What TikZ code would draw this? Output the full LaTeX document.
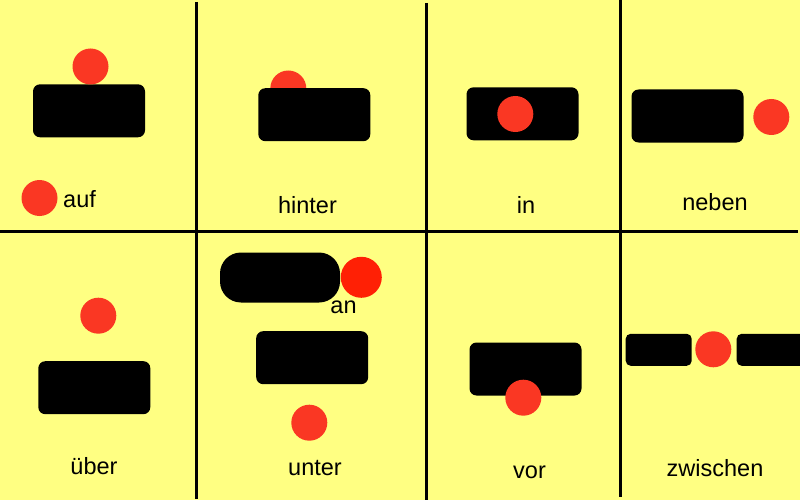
\documentclass[tikz,border=0pt]{standalone}
\usepackage{fontspec}
\setmainfont{Liberation Sans}
\definecolor{bgyellow}{RGB}{255,255,130}
\definecolor{ballred}{RGB}{250,55,35}
\definecolor{anred}{RGB}{255,32,5}
\begin{document}
\begin{tikzpicture}[x=1pt,y=-1pt,
  blk/.style={fill=black,draw=none,rounded corners=7pt,inner sep=0pt,outer sep=0pt,minimum width=#1},
  blk/.default=112pt,
  ball/.style={circle,fill=ballred,draw=none,inner sep=0pt,outer sep=0pt,minimum size=36pt},
  word/.style={anchor=base,inner sep=0pt,font=\fontsize{23.5}{28}\selectfont},
  sep/.style={line width=3pt,black}]
\useasboundingbox (0,0) rectangle (800,500);
\fill[bgyellow] (0,0) rectangle (800,500);
% separators
\draw[sep] (0,231) -- (798,231);
\draw[sep] (196,2) -- (196,499);
\draw[sep] (426,3) -- (426,500);
\draw[sep] (620,0) -- (620,497);
% auf
\node[blk,minimum height=53pt] (aufR) at (89,110.8) {};
\node[ball] (aufB) at (90.5,66.5) {};
\node[ball] (aufS) at (39.5,198) {};
\node[word,anchor=base west] (aufT) at (63,207) {auf};
% hinter
\node[ball] (hinB) at (288.3,88.5) {};
\node[blk,minimum height=53pt] (hinR) at (314.3,114.7) {};
\node[word] (hinT) at (307.5,213) {hinter};
% in
\node[blk,minimum height=53pt] (inR) at (522.5,113.8) {};
\node[ball] (inB) at (515.3,114) {};
\node[word] (inT) at (526,213) {in};
% neben
\node[blk,minimum height=53pt] (nebR) at (687.5,116) {};
\node[ball] (nebB) at (771.3,117) {};
\node[word] (nebT) at (715,210.7) {neben};
% ueber
\node[ball] (ubB) at (98.3,315.7) {};
\node[blk,minimum height=53pt] (ubR) at (94.3,387.7) {};
\node[word] (ubT) at (94,474) {über};
% an
\node[blk=120pt,minimum height=50pt,rounded corners=21pt] (anR) at (280,277.5) {};
\node[ball,fill=anred,minimum size=41pt] (anB) at (361.3,277.3) {};
\node[word] (anT) at (343.5,313.3) {an};
% unter
\node[blk,minimum height=53pt] (unR) at (312.2,357.7) {};
\node[ball] (unB) at (309.3,422.7) {};
\node[word] (unT) at (315,475) {unter};
% vor
\node[blk,minimum height=53pt] (vorR) at (525.5,369) {};
\node[ball] (vorB) at (523.3,397.7) {};
\node[word] (vorT) at (529.5,478.3) {vor};
% zwischen
\node[blk=66pt,minimum height=32pt,rounded corners=5pt] (zwL) at (658.7,349.8) {};
\node[ball] (zwB) at (713.3,349.3) {};
\node[blk=70pt,minimum height=32pt,rounded corners=5pt] (zwR) at (771.7,349.8) {};
\node[word] (zwT) at (715,476.7) {zwischen};
\end{tikzpicture}
\end{document}
